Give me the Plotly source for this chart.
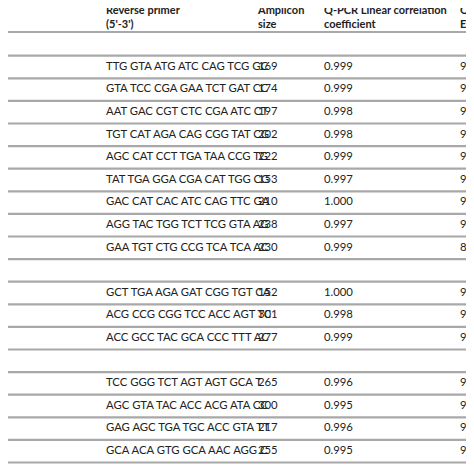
import plotly.graph_objects as go

# Data (table is cropped at left and right edges)
forward = ["CC CAT TGC TGG AT", "GA GAT CAA GAG CG", "TA GTG AAC CTT GG", "AT TAC GCC ATG AG",
           "CG ATG AAC TGG AC", "GG GAC TGT TCA AC", "TG GTT ACG ATT GC", "TG TTG AGG TAA CC",
           "AT CGA ATG GTT GG", "dies", "CT GGT CTT CAT GC", "CA TTT CCC GGA CC",
           "GA CTG AGA CAC GG", "es", "TG AGC TAT ACC G", "AT GGT CCA CAA CA",
           "TG CCG TCA TCA TG", "TG CTG AAG TAG TG"]
reverse = ["TTG GTA ATG ATC CAG TCG GC", "GTA TCC CGA GAA TCT GAT CC", "AAT GAC CGT CTC CGA ATC CT",
           "TGT CAT AGA CAG CGG TAT CG", "AGC CAT CCT TGA TAA CCG TG", "TAT TGA GGA CGA CAT TGG CG",
           "GAC CAT CAC ATC CAG TTC GA", "AGG TAC TGG TCT TCG GTA AG", "GAA TGT CTG CCG TCA TCA AC",
           "", "GCT TGA AGA GAT CGG TGT CA", "ACG CCG CGG TCC ACC AGT TC",
           "ACC GCC TAC GCA CCC TTT AC", "", "TCC GGG TCT AGT AGT GCA T",
           "AGC GTA TAC ACC ACG ATA CC", "GAG AGC TGA TGC ACC GTA TT", "GCA ACA GTG GCA AAC AGG C"]
amplicon = ["169", "174", "197", "202", "222", "153", "210", "238", "230", "",
            "152", "301", "277", "", "265", "300", "217", "255"]
correlation = ["0.999", "0.999", "0.998", "0.998", "0.999", "0.997", "1.000", "0.997", "0.999", "",
               "1.000", "0.998", "0.999", "", "0.996", "0.995", "0.996", "0.995"]
efficiency = ["93", "94", "92", "95", "94", "94", "92", "95", "89", "",
              "94", "98", "95", "", "97", "92", "97", "93"]
headers = ["<b>mer</b>", "<b>Reverse primer<br>(5'-3')</b>", "<b>Amplicon<br>size</b>",
           "<b>Q-PCR Linear correlation<br>coefficient</b>", "<b>Q-P<br>Effi</b>"]
footnote = "parameters used for quantitative real time PCR expression analysis."

col_x = [-3, 98, 250, 316, 452]
row0, step = 59, 22.6
rows = [row0 + step * i for i in range(len(forward))]

fig = go.Figure()
font = dict(family="Lato", size=11.3, color="#222")
for x, vals in zip(col_x, [forward, reverse, amplicon, correlation, efficiency]):
    fig.add_trace(go.Scatter(x=[x] * len(vals), y=rows, text=vals, mode="text",
                             textposition="middle right", textfont=font,
                             hoverinfo="skip", cliponaxis=False))
fig.add_trace(go.Scatter(x=col_x, y=[10] * 5, text=headers, mode="text",
                         textposition="middle right", textfont=dict(family="Lato", size=11, color="#222"),
                         hoverinfo="skip", cliponaxis=False))
fig.add_trace(go.Scatter(x=[-3], y=[rows[-1] + 21], text=[footnote], mode="text",
                         textposition="middle right",
                         textfont=dict(family="Lato", size=10, color="#222"),
                         hoverinfo="skip", cliponaxis=False))

# rule lines: under header, under empty section row, between all rows
line_y = [24, row0 - step / 2] + [r + step / 2 for r in rows]
for y in line_y:
    fig.add_shape(type="line", x0=0, x1=474, y0=y, y1=y, line=dict(color="#a8a8a8", width=2.2))

fig.update_xaxes(range=[0, 474], visible=False)
fig.update_yaxes(range=[474, 0], visible=False)
fig.update_layout(width=474, height=474, margin=dict(l=0, r=0, t=0, b=0),
                  showlegend=False, plot_bgcolor="white", paper_bgcolor="white")

fig.write_html("out.html")
